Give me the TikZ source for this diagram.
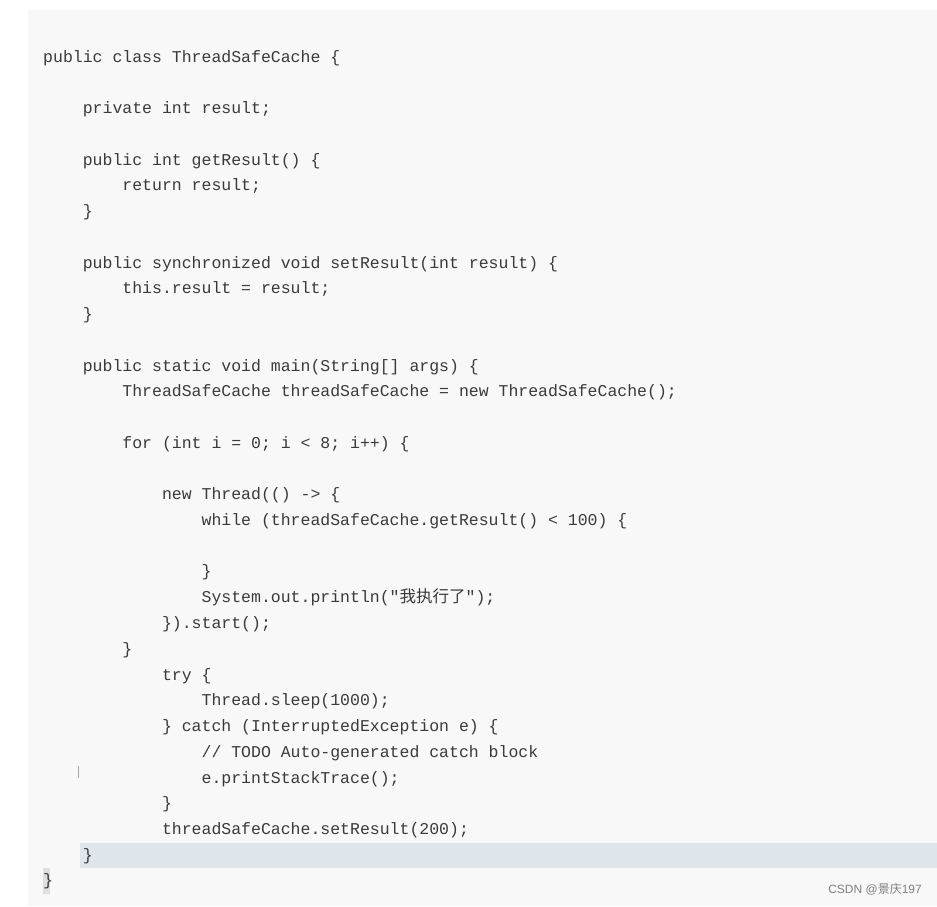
\documentclass[tikz,border=0pt]{standalone}
\usepackage{fontspec}
\setmonofont{Liberation Mono}
\setsansfont{Liberation Sans}
\newfontfamily\cjk{Noto Sans CJK SC}
\definecolor{panel}{HTML}{F8F8F8}
\definecolor{hl}{HTML}{DEE6EC}
\definecolor{codec}{HTML}{3A3A3A}
\begin{document}
\begin{tikzpicture}[x=1pt,y=-1pt,
  code/.style={anchor=base west,inner sep=0pt,font=\ttfamily\fontsize{16.5}{18}\selectfont,text=codec}]
\useasboundingbox (0,0) rectangle (937,906);
\fill[white] (0,0) rectangle (937,906);
\fill[panel] (28,10) rectangle (937,906);
\fill[hl] (80,843) rectangle (937,868);
\fill[gray!25] (43,868) rectangle (50,894);
\draw[gray!70,line width=0.8pt] (78,766) -- (78,778);
\def\cw{9.9}
\foreach \n/\ind/\yy/\t in {
 l1/0/57/{public class ThreadSafeCache \{},
 l2/1/108/{private int result;},
 l3/1/160/{public int getResult() \{},
 l4/2/185/{return result;},
 l5/1/211/{\}},
 l6/1/263/{public synchronized void setResult(int result) \{},
 l7/2/288/{this.result = result;},
 l8/1/314/{\}},
 l9/1/366/{public static void main(String[] args) \{},
 l10/2/391/{ThreadSafeCache threadSafeCache = new ThreadSafeCache();},
 l11/2/443/{for (int i = 0; i < 8; i++) \{},
 l12/3/494/{new Thread(() -> \{},
 l13/4/520/{while (threadSafeCache.getResult() < 100) \{},
 l14/4/571/{\}},
 l15/4/597/{System.out.println("{\cjk 我执行了}");},
 l16/3/623/{\}).start();},
 l17/2/649/{\}},
 l18/3/675/{try \{},
 l19/4/700/{Thread.sleep(1000);},
 l20/3/726/{\} catch (InterruptedException e) \{},
 l21/4/752/{// TODO Auto-generated catch block},
 l22/4/778/{e.printStackTrace();},
 l23/3/803/{\}},
 l24/3/829/{threadSafeCache.setResult(200);},
 l25/1/855/{\}},
 l26/0/880/{\}}}
 {\node[code] (\n) at ({43+4*\ind*\cw},{\yy+5}) {\t};}
\node[anchor=base east,inner sep=0pt,font=\sffamily\fontsize{12}{14}\selectfont,text=gray] (wm) at (922,893) {CSDN @{\cjk 景庆}197};
\end{tikzpicture}
\end{document}
